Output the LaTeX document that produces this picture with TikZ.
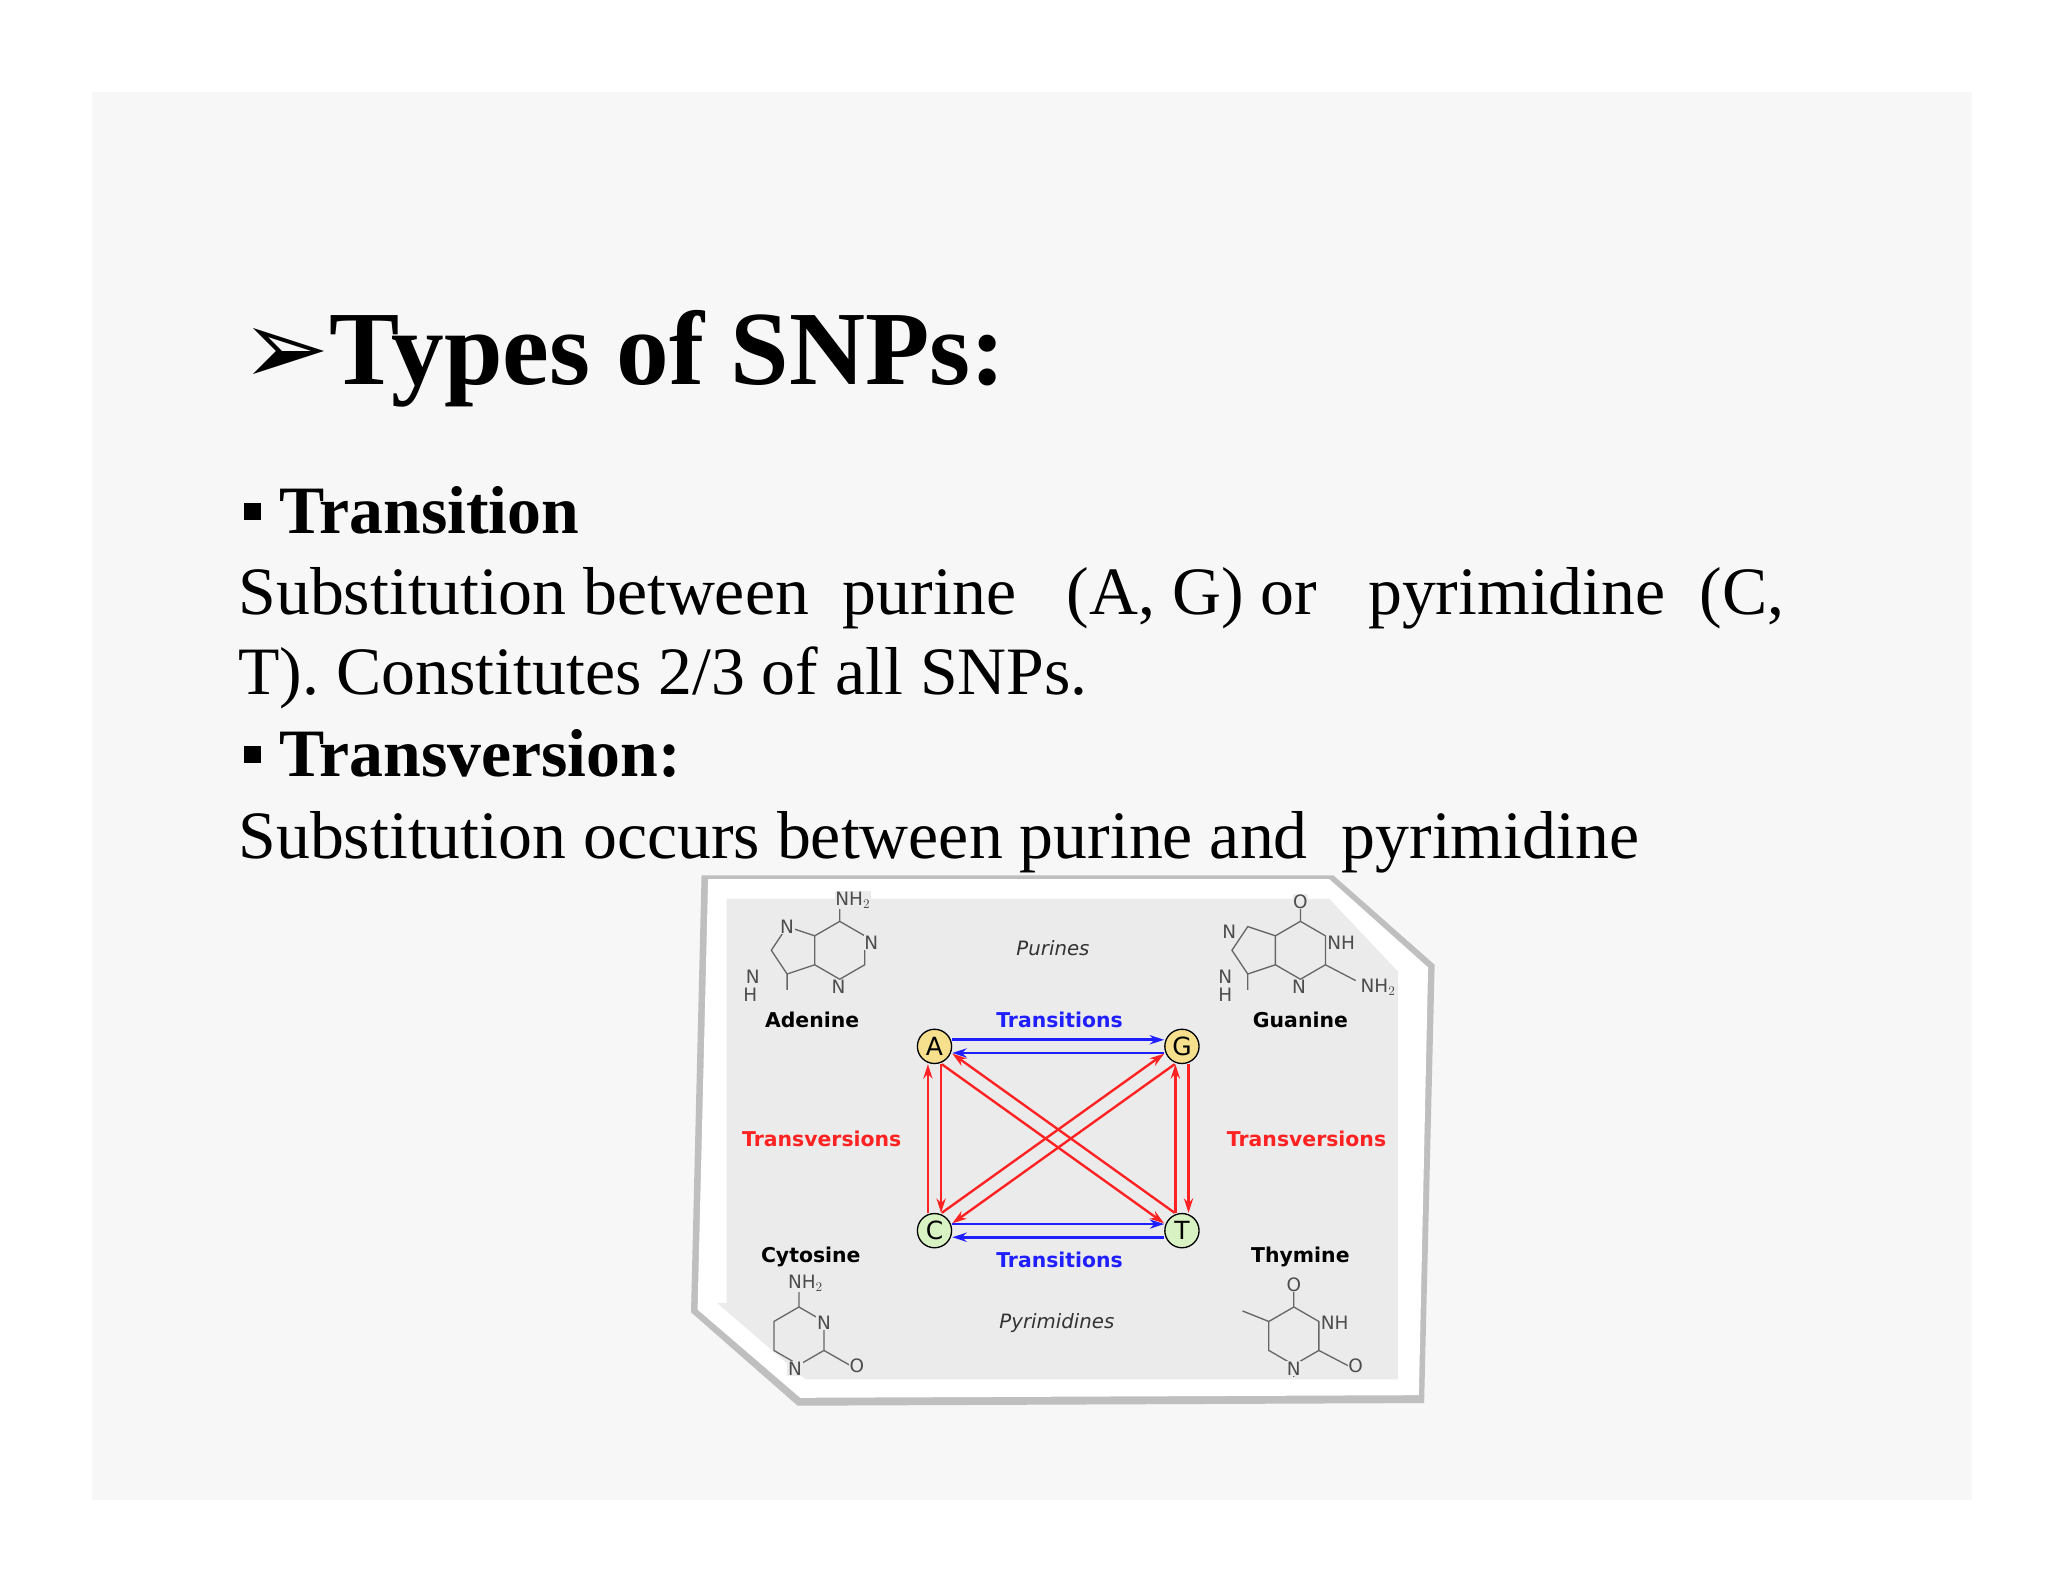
\documentclass[tikz,border=0pt]{standalone}
\usepackage{fontspec}
\setmainfont{Liberation Serif}
\newfontfamily\dv{DejaVu Sans}
\usetikzlibrary{arrows.meta}
\definecolor{panel}{HTML}{EBEBEB}
\definecolor{tblue}{HTML}{1F1FFF}
\definecolor{tred}{HTML}{FF2222}
\definecolor{purfill}{HTML}{F6E08E}
\definecolor{pyrfill}{HTML}{D8F2C4}
\newcommand{\sqb}{\raisebox{10pt}{\rule{13pt}{13pt}}\hspace{14pt}}
\tikzset{
  body/.style={anchor=base west,inner sep=0pt,font=\fontsize{51.5}{60}\selectfont},
  base/.style={circle,draw=black,line width=1pt,minimum size=26pt,inner sep=0pt,font=\dv\fontsize{19}{19}\selectfont},
  lab/.style={font=\dv\bfseries\fontsize{15.5}{16}\selectfont,inner sep=1pt},
  ital/.style={font=\dv\itshape\fontsize{15}{16}\selectfont,text=black!80},
  atom/.style={font=\dv\fontsize{14}{14}\selectfont,text=black!70,fill=panel,inner sep=0.5pt},
  bond/.style={draw=black!60,line width=1pt},
  blu/.style={draw=tblue,line width=2pt,-{Stealth[length=11pt,width=7pt]}},
  rd/.style={draw=tred,line width=1.8pt,-{Stealth[length=11pt,width=7pt]}},
}
\begin{document}
\begin{tikzpicture}[x=1pt,y=-1pt]
\useasboundingbox (0,0) rectangle (1556,1202);
\fill[white] (0,0) rectangle (1556,1202);
\fill[black!3] (70,70) rectangle (1498,1140);
% text
\node[anchor=base west,inner sep=0pt,font=\bfseries\fontsize{80}{90}\selectfont] (title) at (183,292) {{\dv\fontsize{80}{80}\selectfont ➢}Types of SNPs:};
\node[body,font=\bfseries\fontsize{51.5}{60}\selectfont] (h1) at (185,405) {\sqb Transition};
\node[body] (l1) at (181,467) {Substitution between\ \ purine\ \ \ (A, G) or\ \ \ pyrimidine\ \ (C,};
\node[body] (l2) at (181,528) {T). Constitutes 2/3 of all SNPs.};
\node[body,font=\bfseries\fontsize{51.5}{60}\selectfont] (h2) at (185,590) {\sqb Transversion:};
\node[body] (l3) at (181,652) {Substitution occurs between purine and\ \ pyrimidine};
% frame
\fill[black!25] (533,665)--(1013,665)--(1090,733)--(1082,1066)--(606,1068)--(525,997)--cycle;
\fill[white] (538,668)--(1010,668)--(1085,735)--(1078,1060)--(608,1062)--(530,995)--cycle;
\fill[panel] (552,683)--(1010,683)--(1062,738)--(1062,1048)--(612,1048)--(545,990)--(552,990)--cycle;
% structures
\begin{scope}[bond]
\draw (638,700)--(657,711)--(657,733)--(638,744)--(619,733)--(619,711)--cycle (638,700)--(638,684);
\draw (619,711)--(598,704)--(586,722)--(598,740)--(619,733) (598,740)--(598,752);
\draw (988,700)--(1007,711)--(1007,733)--(988,744)--(969,733)--(969,711)--cycle (988,700)--(988,684) (1007,733)--(1030,745);
\draw (969,711)--(948,704)--(936,722)--(948,740)--(969,733) (948,740)--(948,752);
\draw (607,993)--(626,1004)--(626,1026)--(607,1037)--(588,1026)--(588,1004)--cycle (607,993)--(607,978) (626,1026)--(647,1038);
\draw (983,993)--(1002,1004)--(1002,1026)--(983,1037)--(964,1026)--(964,1004)--cycle (983,993)--(983,980) (1002,1026)--(1025,1038) (964,1004)--(944,996) (983,1037)--(983,1046);
\end{scope}
\node[atom] (an1) at (598,704) {N};
\node[atom] (an2) at (662,716) {N};
\node[atom] (an3) at (637,750) {N};
\node[atom] (an4) at (648,684) {NH$_2$};
\node[atom] (an6) at (572,742) {N};
\node[atom] (an7) at (570,756) {H};
\node[atom] (gn1) at (934,708) {N};
\node[atom] (gn2) at (1019,716) {NH};
\node[atom] (gn3) at (987,750) {N};
\node[atom] (gn4) at (1047,750) {NH$_2$};
\node[atom] (gn5) at (988,685) {O};
\node[atom] (gn6) at (931,742) {N};
\node[atom] (gn7) at (931,756) {H};
\node[atom] (cn1) at (612,975) {NH$_2$};
\node[atom] (cn2) at (626,1005) {N};
\node[atom] (cn3) at (651,1038) {O};
\node[atom] (cn4) at (604,1040) {N};
\node[atom] (tn1) at (983,976) {O};
\node[atom] (tn2) at (1014,1005) {NH};
\node[atom] (tn3) at (1030,1038) {O};
\node[atom] (tn4) at (983,1040) {N};
% labels
\node[ital] (pur) at (800,720) {Purines};
\node[ital] (pyr) at (803,1005) {Pyrimidines};
\node[lab] (ade) at (617,775) {Adenine};
\node[lab] (gua) at (988,775) {Guanine};
\node[lab] (cyt) at (616,955) {Cytosine};
\node[lab] (thy) at (988,955) {Thymine};
\node[lab,text=tblue] (tr1) at (805,775) {Transitions};
\node[lab,text=tblue] (tr2) at (805,957) {Transitions};
\begin{scope}
\clip (552,683) rectangle (1062,1048);
\node[lab,text=tred,anchor=east] (tv1) at (686,865) {Transversions};
\node[lab,text=tred,anchor=west] (tv2) at (931,865) {Transversions};
\end{scope}
% bases
\node[base,fill=purfill] (A) at (710,795) {A};
\node[base,fill=purfill] (G) at (898,795) {G};
\node[base,fill=pyrfill] (C) at (710,935) {C};
\node[base,fill=pyrfill] (T) at (898,935) {T};
% arrows
\draw[blu] ([yshift=5pt]A.east) -- ([yshift=5pt]G.west);
\draw[blu] ([yshift=-5pt]G.west) -- ([yshift=-5pt]A.east);
\draw[blu] ([yshift=5pt]C.east) -- ([yshift=5pt]T.west);
\draw[blu] ([yshift=-5pt]T.west) -- ([yshift=-5pt]C.east);
\draw[rd] ([xshift=-5pt]C.north) -- ([xshift=-5pt]A.south);
\draw[rd] ([xshift=5pt]A.south) -- ([xshift=5pt]C.north);
\draw[rd] ([xshift=-5pt]T.north) -- ([xshift=-5pt]G.south);
\draw[rd] ([xshift=5pt]G.south) -- ([xshift=5pt]T.north);
\draw[rd] ([shift={(-4pt,-4pt)}]A.south east) -- ([shift={(-4pt,-4pt)}]T.north west);
\draw[rd] ([shift={(4pt,4pt)}]T.north west) -- ([shift={(4pt,4pt)}]A.south east);
\draw[rd] ([shift={(-4pt,4pt)}]C.north east) -- ([shift={(-4pt,4pt)}]G.south west);
\draw[rd] ([shift={(4pt,-4pt)}]G.south west) -- ([shift={(4pt,-4pt)}]C.north east);
\end{tikzpicture}
\end{document}
